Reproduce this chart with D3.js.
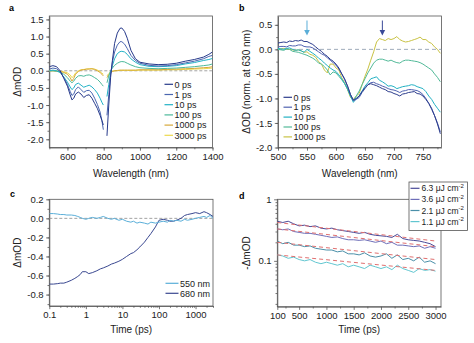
<!DOCTYPE html>
<html><head><meta charset="utf-8">
<script src="https://cdn.jsdelivr.net/npm/d3@7"></script>
<style>body{margin:0;background:#fff}svg{display:block;font-family:Arial,"Liberation Sans",sans-serif}</style>
</head><body><svg id="c" width="474" height="343"></svg>
<script>
// ---------- Panel a data ----------
const aWl = [500,520,540,560,580,600,615,625,635,645,660,675,690,705,720,735,750,765,780,790,798,808,818,828,838,848,860,875,890,900,915,930,950,975,1000,1050,1100,1150,1200,1250,1300,1350,1380,1400];
const aLabels = ["0 ps","1 ps","10 ps","100 ps","1000 ps","3000 ps"];
const aColors = ["#26398a","#4a66b0","#22b2c6","#4cb99a","#d6a83a","#ecd94c"];
const a0 = [0.12,0.15,0.12,0.0,-0.22,-0.45,-0.7,-0.85,-0.8,-0.68,-0.62,-0.68,-0.78,-0.72,-0.7,-0.8,-0.95,-1.1,-1.3,-1.45,-1.58,null,-1.9,-1.0,-0.2,0.3,0.8,1.1,1.24,1.25,1.15,0.95,0.6,0.35,0.25,0.2,0.18,0.19,0.22,0.28,0.33,0.4,0.48,0.55];
const a1 = [0.05,0.08,0.06,-0.03,-0.2,-0.4,-0.6,-0.72,-0.68,-0.55,-0.47,-0.55,-0.63,-0.58,-0.57,-0.65,-0.8,-0.98,-1.2,-1.45,-1.72,null,-1.3,-0.7,-0.1,0.25,0.55,0.75,0.85,0.85,0.78,0.65,0.45,0.3,0.22,0.16,0.14,0.15,0.18,0.23,0.28,0.35,0.42,0.45];
const a10 = [0.0,0.02,0.0,-0.05,-0.18,-0.33,-0.47,-0.55,-0.5,-0.4,-0.36,-0.42,-0.48,-0.45,-0.42,-0.47,-0.55,-0.65,-0.8,-0.92,-1.0,null,-0.75,-0.4,-0.05,0.15,0.35,0.5,0.56,0.57,0.55,0.48,0.35,0.25,0.18,0.13,0.12,0.13,0.15,0.2,0.24,0.3,0.33,0.36];
const a100 = [0.0,0.0,-0.01,-0.04,-0.1,-0.2,-0.3,-0.35,-0.3,-0.22,-0.15,-0.14,-0.16,-0.13,-0.12,-0.15,-0.2,-0.25,-0.33,-0.4,-0.45,null,-0.35,-0.15,0.0,0.08,0.16,0.22,0.26,0.27,0.26,0.22,0.17,0.12,0.09,0.07,0.06,0.07,0.08,0.1,0.12,0.15,0.17,0.2];
const a1000 = [0.0,0.0,-0.01,-0.02,-0.05,-0.1,-0.2,-0.3,-0.22,-0.1,-0.02,0.02,0.03,0.05,0.05,0.06,0.04,0.0,-0.05,-0.1,-0.15,null,-0.2,-0.12,-0.05,-0.02,0.0,0.01,0.02,0.02,0.02,0.02,0.02,0.02,0.03,0.03,0.03,0.04,0.05,0.06,0.07,0.09,0.1,0.12];
const a3000 = [0.0,0.0,0.0,-0.01,-0.03,-0.06,-0.12,-0.2,-0.15,-0.06,0.0,0.03,0.04,0.05,0.06,0.06,0.05,0.02,-0.02,-0.07,-0.1,null,-0.15,-0.08,-0.03,-0.01,0.0,0.0,0.01,0.01,0.01,0.01,0.01,0.01,0.02,0.02,0.02,0.03,0.03,0.04,0.05,0.06,0.07,0.08];
const aSeries = [a0,a1,a10,a100,a1000,a3000];
const aYTicks = [-2.0,-1.5,-1.0,-0.5,0.0,0.5,1.0,1.5];
const aXTicks = [600,800,1000,1200,1400];

// ---------- Panel b data ----------
const bWl = [500,505,510,515,520,525,530,535,540,545,550,555,560,565,570,575,580,585,590,595,600,605,610,615,620,625,630,635,640,645,650,655,660,665,670,675,680,685,690,695,700,705,710,715,720,725,730,735,740,745,750,755,760,765,770,775,780];
const bLabels = ["0 ps","1 ps","10 ps","100 ps","1000 ps"];
const bColors = ["#2c3c8c","#5062b0","#22b0c2","#52b998","#c8c244"];
const b0 = [0.13,0.14,0.15,0.14,0.17,0.16,0.18,0.17,0.19,0.16,0.16,0.13,0.1,0.05,0.0,-0.04,-0.1,-0.14,-0.2,-0.24,-0.3,-0.38,-0.5,-0.6,-0.75,-0.92,-1.03,-1.0,-0.95,-0.86,-0.78,-0.72,-0.7,-0.72,-0.74,-0.77,-0.8,-0.82,-0.86,-0.87,-0.9,-0.92,-0.95,-0.91,-0.9,-0.88,-0.87,-0.86,-0.9,-0.91,-0.95,-1.02,-1.1,-1.22,-1.35,-1.52,-1.72];
const b1 = [0.05,0.06,0.06,0.05,0.08,0.07,0.07,0.09,0.09,0.06,0.05,0.05,0.03,-0.01,-0.05,-0.09,-0.12,-0.17,-0.22,-0.27,-0.32,-0.4,-0.5,-0.62,-0.75,-0.92,-1.05,-1.02,-0.98,-0.88,-0.8,-0.72,-0.68,-0.67,-0.7,-0.72,-0.75,-0.77,-0.8,-0.82,-0.83,-0.85,-0.88,-0.85,-0.84,-0.82,-0.82,-0.83,-0.84,-0.87,-0.92,-1.0,-1.1,-1.2,-1.35,-1.5,-1.68];
const b10 = [0.02,0.01,0.0,0.02,0.03,0.0,-0.02,-0.01,-0.03,-0.06,0.0,-0.04,-0.08,-0.12,-0.18,-0.22,-0.28,-0.33,-0.38,-0.42,-0.45,-0.52,-0.6,-0.7,-0.8,-0.95,-1.08,-1.0,-0.95,-0.85,-0.75,-0.68,-0.6,-0.58,-0.56,-0.63,-0.66,-0.7,-0.75,-0.74,-0.76,-0.8,-0.78,-0.76,-0.75,-0.74,-0.72,-0.73,-0.76,-0.78,-0.8,-0.86,-0.95,-1.02,-1.12,-1.2,-1.28];
const b100 = [0.0,-0.01,-0.02,0.01,0.0,-0.04,-0.05,-0.06,-0.08,-0.1,-0.12,-0.15,-0.18,-0.22,-0.28,-0.3,-0.35,-0.42,-0.52,-0.46,-0.48,-0.55,-0.62,-0.7,-0.82,-0.95,-1.05,-0.95,-0.85,-0.72,-0.6,-0.48,-0.38,-0.28,-0.22,-0.2,-0.2,-0.22,-0.24,-0.22,-0.25,-0.27,-0.28,-0.24,-0.22,-0.22,-0.23,-0.24,-0.25,-0.27,-0.3,-0.34,-0.38,-0.42,-0.5,-0.57,-0.66];
const b1000 = [0.0,0.01,0.02,0.0,0.0,-0.01,-0.02,-0.01,-0.03,-0.06,-0.05,-0.1,-0.12,-0.16,-0.25,-0.3,-0.42,-0.48,-0.3,-0.3,-0.38,-0.42,-0.58,-0.68,-0.82,-0.98,-1.02,-0.95,-0.9,-0.72,-0.55,-0.4,-0.22,-0.05,0.15,0.22,0.2,0.18,0.22,0.2,0.22,0.26,0.2,0.17,0.15,0.16,0.18,0.2,0.22,0.25,0.2,0.2,0.15,0.12,0.05,0.0,-0.08];
const bSeries = [b0,b1,b10,b100,b1000];
const bYTicks = [-2.0,-1.5,-1.0,-0.5,0.0,0.5];
const bXTicks = [500,550,600,650,700,750];
const bArrowWl = [550,680];
const bArrowColors = ["#5aaed8","#3a4a98"];

// ---------- Panel c data ----------
const cTime = [0.1,0.13,0.17,0.2,0.25,0.3,0.4,0.5,0.6,0.7,0.8,1,1.2,1.5,2,2.5,3,4,5,6,8,10,13,17,20,25,30,40,50,60,80,100,130,170,200,250,300,400,500,600,800,1000,1300,1700,2000,2500,3000];
const c550 = [0.05,0.05,0.045,0.04,0.04,0.035,0.035,0.03,0.02,0.01,0.0,-0.01,0.0,0.01,0.0,0.01,0.02,0.0,-0.01,0.0,-0.02,-0.01,-0.03,-0.04,-0.03,-0.05,-0.04,-0.05,-0.06,-0.04,-0.05,-0.04,-0.03,-0.04,-0.02,-0.03,-0.02,-0.03,-0.01,-0.02,-0.01,0.0,0.01,0.02,0.01,0.03,0.0];
const c680 = [-0.69,-0.69,-0.685,-0.68,-0.68,-0.67,-0.65,-0.63,-0.61,-0.59,-0.56,-0.56,-0.58,-0.57,-0.55,-0.53,-0.52,-0.5,-0.48,-0.47,-0.45,-0.43,-0.4,-0.37,-0.36,-0.33,-0.3,-0.25,-0.2,-0.16,-0.09,-0.02,-0.01,-0.02,-0.03,-0.03,-0.02,0.0,0.03,0.04,0.05,0.06,0.05,0.07,0.06,0.04,0.02];
const cLabels = ["550 nm","680 nm"];
const cColors = ["#5aaed8","#3a4890"];
const cYTicks = [-0.8,-0.6,-0.4,-0.2,0.0,0.2];
const cXTicks = [0.1,1,10,100,1000];

// ---------- Panel d data ----------
const dTime = [100,200,300,400,500,600,700,800,900,1000,1100,1200,1300,1400,1500,1600,1700,1800,1900,2000,2100,2200,2300,2400,2500,2600,2700,2800,2900,3000];
const d63 = [0.44,0.42,0.44,0.40,0.37,0.38,0.36,0.37,0.34,0.33,0.34,0.32,0.31,0.30,0.29,0.28,0.29,0.27,0.26,0.255,0.25,0.24,0.27,0.23,0.22,0.215,0.21,0.20,0.19,0.17];
const d36 = [0.33,0.32,0.33,0.30,0.29,0.28,0.28,0.27,0.26,0.25,0.24,0.245,0.23,0.22,0.22,0.215,0.22,0.21,0.20,0.21,0.19,0.20,0.18,0.18,0.175,0.17,0.175,0.16,0.17,0.16];
const d21 = [0.21,0.19,0.20,0.18,0.18,0.17,0.175,0.16,0.155,0.15,0.15,0.14,0.145,0.13,0.13,0.125,0.135,0.12,0.115,0.12,0.13,0.11,0.125,0.105,0.11,0.10,0.115,0.095,0.10,0.09];
const d11 = [0.125,0.12,0.11,0.115,0.105,0.10,0.105,0.095,0.09,0.095,0.09,0.085,0.09,0.08,0.085,0.08,0.075,0.085,0.08,0.075,0.08,0.072,0.085,0.075,0.07,0.065,0.075,0.07,0.072,0.068];
const dSeries = [d63,d36,d21,d11];
const dLabels = ["6.3 μJ cm","3.6 μJ cm","2.1 μJ cm","1.1 μJ cm"];
const dColors = ["#4a4a98","#6e6eb8","#4a8fa8","#62c6d0"];
const dFitTime = [100,3000];
const dFitStart = [0.42,0.33,0.20,0.125];
const dFitEnd = [0.21,0.17,0.105,0.07];
const dYTicks = [0.1,1];
const dXTicks = [100,500,1000,1500,2000,2500,3000];

// ---------- drawing ----------
const svg = d3.select("#c");
const AX = "#555", TXT = "#222";
const fmt1 = d => d.toFixed(1);

function frame(p){
  const g = svg.append("g");
  const id = "clip"+p.name;
  svg.append("clipPath").attr("id",id).append("rect")
    .attr("x",p.l).attr("y",p.t).attr("width",p.r-p.l).attr("height",p.b-p.t);
  p.g = g; p.clip = "url(#"+id+")";
  return g;
}
function axes(p, x, y, o){
  const g = p.g;
  if(o.xMinor) g.append("g").attr("transform",`translate(0,${p.b})`)
    .call(d3.axisBottom(x).tickValues(o.xMinor).tickSize(1.8).tickFormat("")).call(s=>s.select(".domain").remove());
  if(o.yMinor) g.append("g").attr("transform",`translate(${p.l},0)`)
    .call(d3.axisLeft(y).tickValues(o.yMinor).tickSize(1.8).tickFormat("")).call(s=>s.select(".domain").remove());
  g.append("g").attr("transform",`translate(0,${p.b})`)
    .call(d3.axisBottom(x).tickValues(o.xTicks).tickSize(3.2).tickPadding(2.5).tickFormat(o.xFmt).tickSizeOuter(0));
  g.append("g").attr("transform",`translate(${p.l},0)`)
    .call(d3.axisLeft(y).tickValues(o.yTicks).tickSize(3.2).tickPadding(2.5).tickFormat(o.yFmt).tickSizeOuter(0));
  g.selectAll(".tick line").attr("stroke",AX).attr("stroke-width",0.8);
  g.selectAll(".domain").attr("stroke",AX).attr("stroke-width",0.8);
  g.selectAll(".tick text").attr("fill",TXT).style("font-size","9.5px").style("font-family","Arial, 'Liberation Sans', sans-serif");
  g.append("rect").attr("x",p.l).attr("y",p.t).attr("width",p.r-p.l).attr("height",p.b-p.t)
    .attr("fill","none").attr("stroke",AX).attr("stroke-width",0.8);
  g.append("text").attr("x",(p.l+p.r)/2).attr("y",o.xTitleY).attr("text-anchor","middle")
    .attr("fill",TXT).style("font-size","10px").text(o.xTitle);
  g.append("text").attr("transform",`translate(${o.yTitleX},${(p.t+p.b)/2}) rotate(-90)`)
    .attr("text-anchor","middle").attr("fill",TXT).style("font-size","10px").text(o.yTitle);
  g.append("text").attr("x",o.letter[0]).attr("y",o.letter[1]).attr("fill","#000")
    .style("font-size","9px").style("font-weight","bold").text(o.letter[2]);
}
function zeroLine(p, x, y, color, dash){
  p.g.append("line").attr("x1",p.l).attr("x2",p.r).attr("y1",y(0)).attr("y2",y(0))
    .attr("stroke",color).attr("stroke-width",0.8).attr("stroke-dasharray",dash);
}
function series(p, x, y, xs, ys, color, w){
  const line = d3.line().defined(d=>d[1]!==null).x(d=>x(d[0])).y(d=>y(d[1]));
  p.g.append("path").datum(xs.map((v,i)=>[v,ys[i]])).attr("d",line)
    .attr("fill","none").attr("stroke",color).attr("stroke-width",w||1)
    .attr("stroke-linejoin","round").attr("clip-path",p.clip);
}
function legend(p, x0, y0, dy, labels, colors, len){
  labels.forEach((t,i)=>{
    const yy = y0+i*dy;
    p.g.append("line").attr("x1",x0).attr("x2",x0+len).attr("y1",yy).attr("y2",yy)
      .attr("stroke",colors[i]).attr("stroke-width",1.2);
    p.g.append("text").attr("x",x0+len+1.5).attr("y",yy+3.2).attr("fill",TXT)
      .style("font-size","9px").text(t);
  });
}
function range(a,b,s){const r=[];for(let v=a;v<=b+1e-9;v+=s)r.push(+v.toFixed(6));return r;}

// Panel a
{
  const p = {name:"a", l:49.3, r:212.5, t:16, b:147.5};
  frame(p);
  const x = d3.scaleLinear().domain([500,1400]).range([p.l,p.r]);
  const y = d3.scaleLinear().domain([-2.24,1.6]).range([p.b,p.t]);
  axes(p,x,y,{xTicks:aXTicks,yTicks:aYTicks,xFmt:d3.format("d"),yFmt:fmt1,
    xMinor:range(500,1400,100),yMinor:range(-2.0,1.5,0.25),
    xTitle:"Wavelength (nm)",xTitleY:176.5,yTitle:"ΔmOD",yTitleX:21,letter:[9,11,"a"]});
  zeroLine(p,x,y,"#8a8a8a","3,2");
  for(let i=aSeries.length-1;i>=0;i--) series(p,x,y,aWl,aSeries[i],aColors[i],1);
  legend(p,164.5,84.3,10.2,aLabels,aColors,8.5);
}
// Panel b
{
  const p = {name:"b", l:278, r:441.5, t:16, b:147.5};
  frame(p);
  const x = d3.scaleLinear().domain([500,782]).range([p.l,p.r]);
  const y = d3.scaleLinear().domain([-2.0,0.68]).range([p.b,p.t]);
  axes(p,x,y,{xTicks:bXTicks,yTicks:bYTicks,xFmt:d3.format("d"),yFmt:fmt1,
    xMinor:range(500,775,25),yMinor:range(-2.0,0.5,0.25),
    xTitle:"Wavelength (nm)",xTitleY:176.5,yTitle:"ΔOD (norm. at 630 nm)",yTitleX:250,letter:[239,11,"b"]});
  zeroLine(p,x,y,"#8797aa","4,3");
  for(let i=bSeries.length-1;i>=0;i--) series(p,x,y,bWl,bSeries[i],bColors[i],1);
  legend(p,283.5,97.3,9.9,bLabels,bColors,8.5);
  bArrowWl.forEach((w,i)=>{
    const ax = x(w);
    p.g.append("line").attr("x1",ax).attr("x2",ax).attr("y1",20.5).attr("y2",31)
      .attr("stroke",bArrowColors[i]).attr("stroke-width",1);
    p.g.append("path").attr("d",`M${ax-2.8},30 L${ax+2.8},30 L${ax},35.5 Z`).attr("fill",bArrowColors[i]);
  });
}
// Panel c
{
  const p = {name:"c", l:49.3, r:213, t:199.3, b:306};
  frame(p);
  const x = d3.scaleLog().domain([0.1,3000]).range([p.l,p.r]);
  const y = d3.scaleLinear().domain([-0.92,0.2]).range([p.b,p.t]);
  const minor = [];
  [0.1,1,10,100,1000].forEach(dd=>{for(let k=2;k<=9;k++){const v=dd*k; if(v<=3000) minor.push(v);}});
  axes(p,x,y,{xTicks:cXTicks,yTicks:cYTicks,xFmt:d=>String(d),yFmt:fmt1,
    xMinor:minor,yMinor:range(-0.9,0.2,0.1),
    xTitle:"Time (ps)",xTitleY:332.5,yTitle:"ΔmOD",yTitleX:21,letter:[10,197,"c"]});
  zeroLine(p,x,y,"#8a8a8a","3,2");
  series(p,x,y,cTime,c680,cColors[1],1);
  series(p,x,y,cTime,c550,cColors[0],1);
  legend(p,165.5,283.3,10,cLabels,cColors,13);
}
// Panel d
{
  const p = {name:"d", l:277.3, r:441, t:199.3, b:306.7};
  frame(p);
  const x = d3.scaleLinear().domain([100,3100]).range([p.l,p.r]);
  const y = d3.scaleLog().domain([0.018,1]).range([p.b,p.t]);
  const yMinor = [0.02,0.03,0.04,0.05,0.06,0.07,0.08,0.09,0.2,0.3,0.4,0.5,0.6,0.7,0.8,0.9];
  axes(p,x,y,{xTicks:dXTicks,yTicks:dYTicks,xFmt:d3.format("d"),yFmt:d=>String(d),
    xMinor:range(250,2750,500),yMinor:yMinor,
    xTitle:"Time (ps)",xTitleY:332.5,yTitle:"-ΔmOD",yTitleX:250,letter:[239,199,"d"]});
  dSeries.forEach((s,i)=>series(p,x,y,dTime,s,dColors[i],1));
  dSeries.forEach((s,i)=>{
    p.g.append("line").attr("x1",x(dFitTime[0])).attr("x2",x(dFitTime[1]))
      .attr("y1",y(dFitStart[i])).attr("y2",y(dFitEnd[i]))
      .attr("stroke","#e07070").attr("stroke-width",1).attr("stroke-dasharray","4,3");
  });
  const lg = p.g.append("g");
  lg.append("rect").attr("x",409).attr("y",182).attr("width",58.5).attr("height",48.5)
    .attr("fill","#fff").attr("stroke",AX).attr("stroke-width",0.8);
  dLabels.forEach((t,i)=>{
    const yy = 188.3+i*11.1;
    lg.append("line").attr("x1",410.5).attr("x2",419.5).attr("y1",yy).attr("y2",yy)
      .attr("stroke",dColors[i]).attr("stroke-width",1.2);
    const tx = lg.append("text").attr("x",421.5).attr("y",yy+3).attr("fill",TXT).style("font-size","8.5px");
    tx.append("tspan").text(t);
    tx.append("tspan").attr("dy",-3.5).style("font-size","6px").text("-2");
  });
}
</script></body></html>
